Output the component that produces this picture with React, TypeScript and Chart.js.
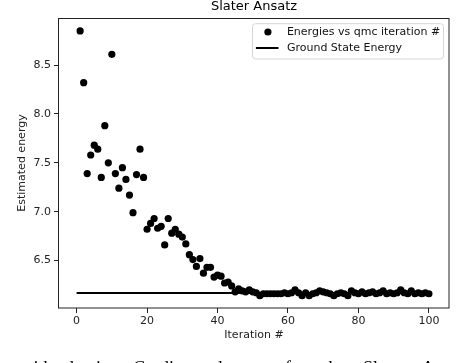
import React, { useEffect, useRef } from "react";
import { Chart, registerables } from "chart.js";

Chart.register(...registerables);

const TITLE = "Slater Ansatz";
const X_LABEL = "Iteration #";
const Y_LABEL = "Estimated energy";
const SERIES_LABEL = "Energies vs qmc iteration #";
const GROUND_LABEL = "Ground State Energy";
const X_TICKS = [0, 20, 40, 60, 80, 100];
const Y_TICKS = [6.5, 7.0, 7.5, 8.0, 8.5];
const CAPTION_LEFT = "with adaptive";
const CAPTION_RIGHT = "Gradient descent for the Slater Ansatz in";

const ITERATIONS = [
  1, 2, 3, 4, 5, 6, 7, 8, 9, 10,
  11, 12, 13, 14, 15, 16, 17, 18, 19, 20,
  21, 22, 23, 24, 25, 26, 27, 28, 29, 30,
  31, 32, 33, 34, 35, 36, 37, 38, 39, 40,
  41, 42, 43, 44, 45, 46, 47, 48, 49, 50,
  51, 52, 53, 54, 55, 56, 57, 58, 59, 60,
  61, 62, 63, 64, 65, 66, 67, 68, 69, 70,
  71, 72, 73, 74, 75, 76, 77, 78, 79, 80,
  81, 82, 83, 84, 85, 86, 87, 88, 89, 90,
  91, 92, 93, 94, 95, 96, 97, 98, 99, 100,
];

const ENERGIES = [
  8.85, 8.32, 7.39, 7.58, 7.68, 7.64, 7.35, 7.88, 7.50, 8.61,
  7.39, 7.24, 7.45, 7.33, 7.17, 6.99, 7.38, 7.64, 7.35, 6.82,
  6.88, 6.93, 6.83, 6.85, 6.66, 6.93, 6.78, 6.82, 6.77, 6.74,
  6.67, 6.56, 6.51, 6.44, 6.52, 6.37, 6.43, 6.43, 6.33, 6.35,
  6.34, 6.27, 6.28, 6.24, 6.18, 6.21, 6.19, 6.18, 6.20, 6.18,
  6.17, 6.14, 6.16, 6.16, 6.16, 6.16, 6.16, 6.16, 6.17, 6.16,
  6.17, 6.20, 6.17, 6.14, 6.17, 6.14, 6.16, 6.17, 6.19, 6.18,
  6.17, 6.16, 6.14, 6.16, 6.17, 6.16, 6.14, 6.19, 6.17, 6.16,
  6.18, 6.16, 6.17, 6.18, 6.16, 6.17, 6.19, 6.16, 6.17, 6.16,
  6.17, 6.20, 6.17, 6.16, 6.19, 6.16, 6.17, 6.16, 6.17, 6.16,
];

const GROUND_X = [0, 100];
const GROUND_ENERGY = 6.168;

const FONT = "'DejaVu Sans', 'Liberation Sans', sans-serif";

const overlayPlugin = {
  id: "mplOverlay",
  afterDraw(chart: any) {
    const { ctx, chartArea: a } = chart;
    ctx.save();
    // frame (all four spines)
    ctx.strokeStyle = "#222";
    ctx.lineWidth = 1;
    ctx.strokeRect(Math.round(a.left) - 0.5, Math.round(a.top) + 0.5, Math.round(a.right - a.left) + 0.5, Math.round(a.bottom - a.top) - 0.5);

    // title
    ctx.font = `13px ${FONT}`;
    ctx.fillStyle = "#000";
    ctx.textAlign = "center";
    ctx.textBaseline = "alphabetic";
    ctx.fillText(TITLE, (a.left + a.right) / 2, 9.8);

    // legend
    const bx = a.right - 196.5;
    const by = a.top + 5.7;
    const bw = 191;
    const bh = 35.3;
    const r = 3;
    ctx.beginPath();
    ctx.moveTo(bx + r, by);
    ctx.lineTo(bx + bw - r, by);
    ctx.quadraticCurveTo(bx + bw, by, bx + bw, by + r);
    ctx.lineTo(bx + bw, by + bh - r);
    ctx.quadraticCurveTo(bx + bw, by + bh, bx + bw - r, by + bh);
    ctx.lineTo(bx + r, by + bh);
    ctx.quadraticCurveTo(bx, by + bh, bx, by + bh - r);
    ctx.lineTo(bx, by + r);
    ctx.quadraticCurveTo(bx, by, bx + r, by);
    ctx.closePath();
    ctx.fillStyle = "rgba(255,255,255,0.8)";
    ctx.fill();
    ctx.strokeStyle = "#d6d6d6";
    ctx.lineWidth = 1;
    ctx.stroke();

    const ds = chart.data.datasets;
    const row1 = by + 8.3;
    const row2 = by + 24.3;
    // marker
    ctx.fillStyle = "#000";
    ctx.beginPath();
    ctx.arc(bx + 15.4, row1, 3.6, 0, Math.PI * 2);
    ctx.fill();
    // line
    ctx.strokeStyle = "#000";
    ctx.lineWidth = 2;
    ctx.beginPath();
    ctx.moveTo(bx + 3.4, row2);
    ctx.lineTo(bx + 26, row2);
    ctx.stroke();
    // text
    ctx.font = `11px ${FONT}`;
    ctx.fillStyle = "#111";
    ctx.textAlign = "left";
    ctx.textBaseline = "middle";
    ctx.fillText(ds[0].label, bx + 34.4, row1);
    ctx.fillText(ds[1].label, bx + 34.4, row2);
    ctx.restore();
  },
};

export default function App() {
  const ref = useRef<HTMLCanvasElement | null>(null);

  useEffect(() => {
    if (!ref.current) return;
    const points = ITERATIONS.map((x, i) => ({ x, y: ENERGIES[i] }));
    const ground = GROUND_X.map((x) => ({ x, y: GROUND_ENERGY }));
    const tickFont = { family: FONT, size: 11 };
    const chart = new Chart(ref.current, {
      type: "scatter",
      data: {
        datasets: [
          {
            label: SERIES_LABEL,
            data: points,
            backgroundColor: "#000",
            borderColor: "#000",
            borderWidth: 0,
            pointRadius: 3.6,
            pointHoverRadius: 3.6,
            showLine: false,
          },
          {
            type: "line",
            label: GROUND_LABEL,
            data: ground,
            borderColor: "#000",
            backgroundColor: "#000",
            borderWidth: 2,
            pointRadius: 0,
            showLine: true,
            fill: false,
          } as any,
        ],
      },
      options: {
        responsive: false,
        animation: false,
        events: [],
        layout: { padding: { left: 0, top: 18, right: 25, bottom: 0 } },
        plugins: {
          legend: { display: false },
          title: { display: false },
          tooltip: { enabled: false },
        },
        scales: {
          x: {
            type: "linear",
            min: -5,
            max: 105.7,
            afterBuildTicks: (s: any) => {
              s.ticks = X_TICKS.map((v) => ({ value: v }));
            },
            afterFit: (s: any) => {
              s.height = 55;
            },
            ticks: {
              color: "#222",
              font: tickFont,
              padding: 2,
              maxRotation: 0,
              autoSkip: false,
              callback: (v: any) => String(v),
            },
            grid: {
              display: true,
              drawOnChartArea: false,
              drawTicks: true,
              tickLength: 5,
              tickColor: "#222",
              tickWidth: 1,
            },
            border: { display: false },
            title: {
              display: true,
              text: X_LABEL,
              color: "#222",
              font: tickFont,
              padding: { top: 0, bottom: 21 },
            },
          },
          y: {
            type: "linear",
            min: 6.014,
            max: 8.982,
            afterBuildTicks: (s: any) => {
              s.ticks = Y_TICKS.map((v) => ({ value: v }));
            },
            afterFit: (s: any) => {
              s.width = 59;
            },
            ticks: {
              color: "#222",
              font: tickFont,
              padding: 3,
              autoSkip: false,
              callback: (v: any) => Number(v).toFixed(1),
            },
            grid: {
              display: true,
              drawOnChartArea: false,
              drawTicks: true,
              tickLength: 5,
              tickColor: "#222",
              tickWidth: 1,
            },
            border: { display: false },
            title: {
              display: true,
              text: Y_LABEL,
              color: "#222",
              font: tickFont,
              padding: { top: 16, bottom: 0 },
            },
          },
        },
      },
      plugins: [overlayPlugin],
    });
    return () => chart.destroy();
  }, []);

  return (
    <div
      style={{
        position: "fixed",
        left: 0,
        top: 0,
        width: 474,
        height: 363,
        overflow: "hidden",
        background: "#fff",
      }}
    >
      <canvas ref={ref} width={474} height={363} style={{ display: "block" }} />
      <div
        style={{
          position: "absolute",
          left: 0,
          top: 351,
          width: 474,
          height: 12,
          overflow: "hidden",
          fontFamily: "'Liberation Serif', 'DejaVu Serif', serif",
          fontSize: 18,
          lineHeight: "20px",
          whiteSpace: "nowrap",
          color: "#000",
        }}
      >
        <span style={{ position: "absolute", right: 474 - 118, top: 7 }}>{CAPTION_LEFT}</span>
        <span style={{ position: "absolute", left: 133, top: 7, wordSpacing: 13 }}>{CAPTION_RIGHT}</span>
      </div>
    </div>
  );
}
